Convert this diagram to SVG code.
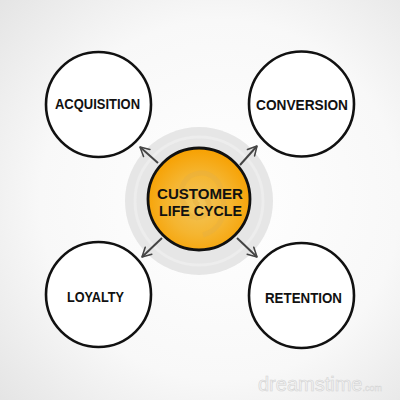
<svg xmlns="http://www.w3.org/2000/svg" width="400" height="400" viewBox="0 0 400 400">
  <defs>
    <radialGradient id="bg" cx="0.55" cy="0.5" r="0.75">
      <stop offset="0" stop-color="#ffffff"/>
      <stop offset="0.6" stop-color="#f8f8f8"/>
      <stop offset="1" stop-color="#e4e4e4"/>
    </radialGradient>
    <radialGradient id="orange" cx="0.5" cy="0.55" r="0.55">
      <stop offset="0" stop-color="#f2c55a"/>
      <stop offset="0.55" stop-color="#f5b530"/>
      <stop offset="1" stop-color="#f7a000"/>
    </radialGradient>
    <marker id="arrow" viewBox="0 0 10 10" refX="9" refY="5" markerWidth="6" markerHeight="6" orient="auto" markerUnits="strokeWidth">
      <path d="M1.5,1 L9,5 L1.5,9" fill="none" stroke="#444" stroke-width="1.3" stroke-linecap="round" stroke-linejoin="round"/>
    </marker>
    <style>
      .node { fill: #ffffff; stroke: #111; stroke-width: 2.6; }
      .label { font-family: "Liberation Sans", "DejaVu Sans", sans-serif; font-weight: bold; fill: #111; text-anchor: middle; }
      .conn { stroke: #444; stroke-width: 2; fill: none; marker-end: url(#arrow); }
    </style>
  </defs>
  <rect x="0" y="0" width="400" height="400" fill="url(#bg)"/>

  <!-- background rings -->
  <circle cx="199" cy="201" r="74" fill="#e6e6e6"/>
  <circle cx="199" cy="201" r="64" fill="none" stroke="#f0f0f0" stroke-width="3" opacity="0.7"/>

  <g id="connectors">
    <line class="conn" x1="158" y1="163" x2="140" y2="147"/>
    <line class="conn" x1="240" y1="165" x2="257" y2="146"/>
    <line class="conn" x1="162" y1="238" x2="142" y2="257"/>
    <line class="conn" x1="237" y1="238" x2="257" y2="257"/>
  </g>

  <g id="center">
    <circle cx="199" cy="199" r="51" fill="url(#orange)" stroke="#111" stroke-width="2.8"/>
    <path d="M199,205 a6,6 0 1 1 8,-6 a12,12 0 1 1 -22,6 a20,20 0 1 1 36,-10 a28,28 0 0 1 -18,40" fill="none" stroke="#e8b040" stroke-width="5" opacity="0.5"/>
    <text class="label" x="200" y="199" font-size="15" textLength="86" lengthAdjust="spacingAndGlyphs">CUSTOMER</text>
    <text class="label" x="200.5" y="215.5" font-size="15" textLength="83" lengthAdjust="spacingAndGlyphs">LIFE CYCLE</text>
  </g>

  <g id="acquisition">
    <circle class="node" cx="98.5" cy="104.5" r="52.5"/>
    <text class="label" x="97.5" y="109" font-size="15" textLength="85" lengthAdjust="spacingAndGlyphs">ACQUISITION</text>
  </g>
  <g id="conversion">
    <circle class="node" cx="301.5" cy="104" r="52.5"/>
    <text class="label" x="302" y="110" font-size="15" textLength="92" lengthAdjust="spacingAndGlyphs">CONVERSION</text>
  </g>
  <g id="loyalty">
    <circle class="node" cx="98.5" cy="294.5" r="52.5"/>
    <text class="label" x="95.5" y="302" font-size="15" textLength="57" lengthAdjust="spacingAndGlyphs">LOYALTY</text>
  </g>
  <g id="retention">
    <circle class="node" cx="301.5" cy="295.5" r="52.5"/>
    <text class="label" x="303.5" y="303" font-size="15" textLength="77" lengthAdjust="spacingAndGlyphs">RETENTION</text>
  </g>

  <g id="watermark" opacity="0.9">
    <text x="258" y="391" font-family="Liberation Sans, sans-serif" font-size="20" fill="#f4f4f4" stroke="#d0d0d0" stroke-width="0.6">dreamstime<tspan font-size="9" stroke-width="0.4">.com</tspan></text>
  </g>
</svg>
